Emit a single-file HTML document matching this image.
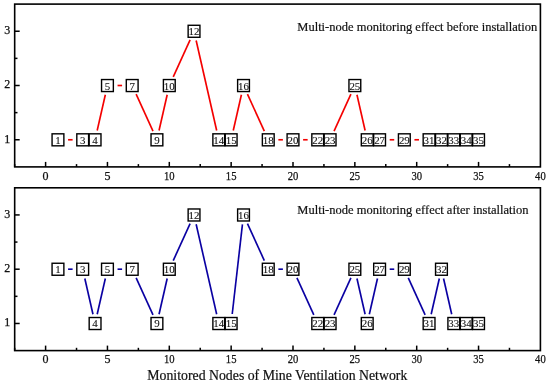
<!DOCTYPE html>
<html><head><meta charset="utf-8"><style>
html,body{margin:0;padding:0;background:#fff;}
body{width:550px;height:383px;overflow:hidden;}
svg{display:block;}
text{font-family:"Liberation Serif",serif;fill:#111;}
.tl{font-size:12.0px;stroke:#111;stroke-width:0.25px;}
.bl{font-size:10.9px;stroke:#111;stroke-width:0.1px;}
.tt{font-size:12.8px;stroke:#111;stroke-width:0.2px;}
.xt{font-size:14px;stroke:#111;stroke-width:0.2px;}
</style></head><body>
<svg width="550" height="383" viewBox="0 0 550 383">
<rect width="550" height="383" fill="#fff"/>
<rect x="14.68" y="4.10" width="525.73" height="162.80" fill="none" stroke="#000" stroke-width="1.6"/>
<line x1="14.68" y1="166.90" x2="14.68" y2="164.10" stroke="#000" stroke-width="1.5"/>
<line x1="45.60" y1="166.90" x2="45.60" y2="161.90" stroke="#000" stroke-width="1.5"/>
<line x1="76.53" y1="166.90" x2="76.53" y2="164.10" stroke="#000" stroke-width="1.5"/>
<line x1="107.45" y1="166.90" x2="107.45" y2="161.90" stroke="#000" stroke-width="1.5"/>
<line x1="138.38" y1="166.90" x2="138.38" y2="164.10" stroke="#000" stroke-width="1.5"/>
<line x1="169.30" y1="166.90" x2="169.30" y2="161.90" stroke="#000" stroke-width="1.5"/>
<line x1="200.22" y1="166.90" x2="200.22" y2="164.10" stroke="#000" stroke-width="1.5"/>
<line x1="231.15" y1="166.90" x2="231.15" y2="161.90" stroke="#000" stroke-width="1.5"/>
<line x1="262.07" y1="166.90" x2="262.07" y2="164.10" stroke="#000" stroke-width="1.5"/>
<line x1="293.00" y1="166.90" x2="293.00" y2="161.90" stroke="#000" stroke-width="1.5"/>
<line x1="323.93" y1="166.90" x2="323.93" y2="164.10" stroke="#000" stroke-width="1.5"/>
<line x1="354.85" y1="166.90" x2="354.85" y2="161.90" stroke="#000" stroke-width="1.5"/>
<line x1="385.77" y1="166.90" x2="385.77" y2="164.10" stroke="#000" stroke-width="1.5"/>
<line x1="416.70" y1="166.90" x2="416.70" y2="161.90" stroke="#000" stroke-width="1.5"/>
<line x1="447.62" y1="166.90" x2="447.62" y2="164.10" stroke="#000" stroke-width="1.5"/>
<line x1="478.55" y1="166.90" x2="478.55" y2="161.90" stroke="#000" stroke-width="1.5"/>
<line x1="509.47" y1="166.90" x2="509.47" y2="164.10" stroke="#000" stroke-width="1.5"/>
<line x1="14.68" y1="139.77" x2="19.68" y2="139.77" stroke="#000" stroke-width="1.5"/>
<line x1="14.68" y1="112.63" x2="17.48" y2="112.63" stroke="#000" stroke-width="1.5"/>
<line x1="14.68" y1="85.50" x2="19.68" y2="85.50" stroke="#000" stroke-width="1.5"/>
<line x1="14.68" y1="58.37" x2="17.48" y2="58.37" stroke="#000" stroke-width="1.5"/>
<line x1="14.68" y1="31.23" x2="19.68" y2="31.23" stroke="#000" stroke-width="1.5"/>
<text x="45.60" y="179.50" class="tl" text-anchor="middle">0</text>
<text x="107.45" y="179.50" class="tl" text-anchor="middle">5</text>
<text x="169.30" y="179.50" class="tl" text-anchor="middle" textLength="10.6" lengthAdjust="spacingAndGlyphs">10</text>
<text x="231.15" y="179.50" class="tl" text-anchor="middle" textLength="10.6" lengthAdjust="spacingAndGlyphs">15</text>
<text x="293.00" y="179.50" class="tl" text-anchor="middle" textLength="10.6" lengthAdjust="spacingAndGlyphs">20</text>
<text x="354.85" y="179.50" class="tl" text-anchor="middle" textLength="10.6" lengthAdjust="spacingAndGlyphs">25</text>
<text x="416.70" y="179.50" class="tl" text-anchor="middle" textLength="10.6" lengthAdjust="spacingAndGlyphs">30</text>
<text x="478.55" y="179.50" class="tl" text-anchor="middle" textLength="10.6" lengthAdjust="spacingAndGlyphs">35</text>
<text x="540.40" y="179.50" class="tl" text-anchor="middle" textLength="10.6" lengthAdjust="spacingAndGlyphs">40</text>
<text x="7.3" y="142.57" class="tl" text-anchor="middle">1</text>
<text x="7.3" y="88.30" class="tl" text-anchor="middle">2</text>
<text x="7.3" y="34.03" class="tl" text-anchor="middle">3</text>
<line x1="68.07" y1="139.77" x2="72.61" y2="139.77" stroke="#f40000" stroke-width="1.65"/>
<line x1="97.19" y1="130.50" x2="105.34" y2="94.76" stroke="#f40000" stroke-width="1.65"/>
<line x1="117.55" y1="85.50" x2="122.09" y2="85.50" stroke="#f40000" stroke-width="1.65"/>
<line x1="136.13" y1="94.14" x2="152.99" y2="131.12" stroke="#f40000" stroke-width="1.65"/>
<line x1="159.04" y1="130.50" x2="167.19" y2="94.76" stroke="#f40000" stroke-width="1.65"/>
<line x1="173.24" y1="76.86" x2="190.10" y2="39.88" stroke="#f40000" stroke-width="1.65"/>
<line x1="196.15" y1="40.50" x2="216.67" y2="130.50" stroke="#f40000" stroke-width="1.65"/>
<line x1="233.26" y1="130.50" x2="241.41" y2="94.76" stroke="#f40000" stroke-width="1.65"/>
<line x1="247.46" y1="94.14" x2="264.32" y2="131.12" stroke="#f40000" stroke-width="1.65"/>
<line x1="278.36" y1="139.77" x2="282.90" y2="139.77" stroke="#f40000" stroke-width="1.65"/>
<line x1="303.10" y1="139.77" x2="307.64" y2="139.77" stroke="#f40000" stroke-width="1.65"/>
<line x1="334.05" y1="131.12" x2="350.91" y2="94.14" stroke="#f40000" stroke-width="1.65"/>
<line x1="356.96" y1="94.76" x2="365.11" y2="130.50" stroke="#f40000" stroke-width="1.65"/>
<line x1="389.69" y1="139.77" x2="394.23" y2="139.77" stroke="#f40000" stroke-width="1.65"/>
<line x1="414.43" y1="139.77" x2="418.97" y2="139.77" stroke="#f40000" stroke-width="1.65"/>
<rect x="52.07" y="133.82" width="11.8" height="12.0" fill="#fff" stroke="#000" stroke-width="1.4"/>
<text x="57.97" y="143.77" class="bl" text-anchor="middle">1</text>
<rect x="76.81" y="133.82" width="11.8" height="12.0" fill="#fff" stroke="#000" stroke-width="1.4"/>
<text x="82.71" y="143.77" class="bl" text-anchor="middle">3</text>
<rect x="89.18" y="133.82" width="11.8" height="12.0" fill="#fff" stroke="#000" stroke-width="1.4"/>
<text x="95.08" y="143.77" class="bl" text-anchor="middle">4</text>
<rect x="101.55" y="79.55" width="11.8" height="12.0" fill="#fff" stroke="#000" stroke-width="1.4"/>
<text x="107.45" y="89.50" class="bl" text-anchor="middle">5</text>
<rect x="126.29" y="79.55" width="11.8" height="12.0" fill="#fff" stroke="#000" stroke-width="1.4"/>
<text x="132.19" y="89.50" class="bl" text-anchor="middle">7</text>
<rect x="151.03" y="133.82" width="11.8" height="12.0" fill="#fff" stroke="#000" stroke-width="1.4"/>
<text x="156.93" y="143.77" class="bl" text-anchor="middle">9</text>
<rect x="163.40" y="79.55" width="11.8" height="12.0" fill="#fff" stroke="#000" stroke-width="1.4"/>
<text x="169.30" y="89.50" class="bl" text-anchor="middle">10</text>
<rect x="188.14" y="25.28" width="11.8" height="12.0" fill="#fff" stroke="#000" stroke-width="1.4"/>
<text x="194.04" y="35.23" class="bl" text-anchor="middle">12</text>
<rect x="212.88" y="133.82" width="11.8" height="12.0" fill="#fff" stroke="#000" stroke-width="1.4"/>
<text x="218.78" y="143.77" class="bl" text-anchor="middle">14</text>
<rect x="225.25" y="133.82" width="11.8" height="12.0" fill="#fff" stroke="#000" stroke-width="1.4"/>
<text x="231.15" y="143.77" class="bl" text-anchor="middle">15</text>
<rect x="237.62" y="79.55" width="11.8" height="12.0" fill="#fff" stroke="#000" stroke-width="1.4"/>
<text x="243.52" y="89.50" class="bl" text-anchor="middle">16</text>
<rect x="262.36" y="133.82" width="11.8" height="12.0" fill="#fff" stroke="#000" stroke-width="1.4"/>
<text x="268.26" y="143.77" class="bl" text-anchor="middle">18</text>
<rect x="287.10" y="133.82" width="11.8" height="12.0" fill="#fff" stroke="#000" stroke-width="1.4"/>
<text x="293.00" y="143.77" class="bl" text-anchor="middle">20</text>
<rect x="311.84" y="133.82" width="11.8" height="12.0" fill="#fff" stroke="#000" stroke-width="1.4"/>
<text x="317.74" y="143.77" class="bl" text-anchor="middle">22</text>
<rect x="324.21" y="133.82" width="11.8" height="12.0" fill="#fff" stroke="#000" stroke-width="1.4"/>
<text x="330.11" y="143.77" class="bl" text-anchor="middle">23</text>
<rect x="348.95" y="79.55" width="11.8" height="12.0" fill="#fff" stroke="#000" stroke-width="1.4"/>
<text x="354.85" y="89.50" class="bl" text-anchor="middle">25</text>
<rect x="361.32" y="133.82" width="11.8" height="12.0" fill="#fff" stroke="#000" stroke-width="1.4"/>
<text x="367.22" y="143.77" class="bl" text-anchor="middle">26</text>
<rect x="373.69" y="133.82" width="11.8" height="12.0" fill="#fff" stroke="#000" stroke-width="1.4"/>
<text x="379.59" y="143.77" class="bl" text-anchor="middle">27</text>
<rect x="398.43" y="133.82" width="11.8" height="12.0" fill="#fff" stroke="#000" stroke-width="1.4"/>
<text x="404.33" y="143.77" class="bl" text-anchor="middle">29</text>
<rect x="423.17" y="133.82" width="11.8" height="12.0" fill="#fff" stroke="#000" stroke-width="1.4"/>
<text x="429.07" y="143.77" class="bl" text-anchor="middle">31</text>
<rect x="435.54" y="133.82" width="11.8" height="12.0" fill="#fff" stroke="#000" stroke-width="1.4"/>
<text x="441.44" y="143.77" class="bl" text-anchor="middle">32</text>
<rect x="447.91" y="133.82" width="11.8" height="12.0" fill="#fff" stroke="#000" stroke-width="1.4"/>
<text x="453.81" y="143.77" class="bl" text-anchor="middle">33</text>
<rect x="460.28" y="133.82" width="11.8" height="12.0" fill="#fff" stroke="#000" stroke-width="1.4"/>
<text x="466.18" y="143.77" class="bl" text-anchor="middle">34</text>
<rect x="472.65" y="133.82" width="11.8" height="12.0" fill="#fff" stroke="#000" stroke-width="1.4"/>
<text x="478.55" y="143.77" class="bl" text-anchor="middle">35</text>
<rect x="14.68" y="187.80" width="525.73" height="162.80" fill="none" stroke="#000" stroke-width="1.6"/>
<line x1="14.68" y1="350.60" x2="14.68" y2="347.80" stroke="#000" stroke-width="1.5"/>
<line x1="45.60" y1="350.60" x2="45.60" y2="345.60" stroke="#000" stroke-width="1.5"/>
<line x1="76.53" y1="350.60" x2="76.53" y2="347.80" stroke="#000" stroke-width="1.5"/>
<line x1="107.45" y1="350.60" x2="107.45" y2="345.60" stroke="#000" stroke-width="1.5"/>
<line x1="138.38" y1="350.60" x2="138.38" y2="347.80" stroke="#000" stroke-width="1.5"/>
<line x1="169.30" y1="350.60" x2="169.30" y2="345.60" stroke="#000" stroke-width="1.5"/>
<line x1="200.22" y1="350.60" x2="200.22" y2="347.80" stroke="#000" stroke-width="1.5"/>
<line x1="231.15" y1="350.60" x2="231.15" y2="345.60" stroke="#000" stroke-width="1.5"/>
<line x1="262.07" y1="350.60" x2="262.07" y2="347.80" stroke="#000" stroke-width="1.5"/>
<line x1="293.00" y1="350.60" x2="293.00" y2="345.60" stroke="#000" stroke-width="1.5"/>
<line x1="323.93" y1="350.60" x2="323.93" y2="347.80" stroke="#000" stroke-width="1.5"/>
<line x1="354.85" y1="350.60" x2="354.85" y2="345.60" stroke="#000" stroke-width="1.5"/>
<line x1="385.77" y1="350.60" x2="385.77" y2="347.80" stroke="#000" stroke-width="1.5"/>
<line x1="416.70" y1="350.60" x2="416.70" y2="345.60" stroke="#000" stroke-width="1.5"/>
<line x1="447.62" y1="350.60" x2="447.62" y2="347.80" stroke="#000" stroke-width="1.5"/>
<line x1="478.55" y1="350.60" x2="478.55" y2="345.60" stroke="#000" stroke-width="1.5"/>
<line x1="509.47" y1="350.60" x2="509.47" y2="347.80" stroke="#000" stroke-width="1.5"/>
<line x1="14.68" y1="323.47" x2="19.68" y2="323.47" stroke="#000" stroke-width="1.5"/>
<line x1="14.68" y1="296.33" x2="17.48" y2="296.33" stroke="#000" stroke-width="1.5"/>
<line x1="14.68" y1="269.20" x2="19.68" y2="269.20" stroke="#000" stroke-width="1.5"/>
<line x1="14.68" y1="242.07" x2="17.48" y2="242.07" stroke="#000" stroke-width="1.5"/>
<line x1="14.68" y1="214.93" x2="19.68" y2="214.93" stroke="#000" stroke-width="1.5"/>
<text x="45.60" y="363.20" class="tl" text-anchor="middle">0</text>
<text x="107.45" y="363.20" class="tl" text-anchor="middle">5</text>
<text x="169.30" y="363.20" class="tl" text-anchor="middle" textLength="10.6" lengthAdjust="spacingAndGlyphs">10</text>
<text x="231.15" y="363.20" class="tl" text-anchor="middle" textLength="10.6" lengthAdjust="spacingAndGlyphs">15</text>
<text x="293.00" y="363.20" class="tl" text-anchor="middle" textLength="10.6" lengthAdjust="spacingAndGlyphs">20</text>
<text x="354.85" y="363.20" class="tl" text-anchor="middle" textLength="10.6" lengthAdjust="spacingAndGlyphs">25</text>
<text x="416.70" y="363.20" class="tl" text-anchor="middle" textLength="10.6" lengthAdjust="spacingAndGlyphs">30</text>
<text x="478.55" y="363.20" class="tl" text-anchor="middle" textLength="10.6" lengthAdjust="spacingAndGlyphs">35</text>
<text x="540.40" y="363.20" class="tl" text-anchor="middle" textLength="10.6" lengthAdjust="spacingAndGlyphs">40</text>
<text x="7.3" y="326.27" class="tl" text-anchor="middle">1</text>
<text x="7.3" y="272.00" class="tl" text-anchor="middle">2</text>
<text x="7.3" y="217.73" class="tl" text-anchor="middle">3</text>
<line x1="68.07" y1="269.20" x2="72.61" y2="269.20" stroke="#0a00a2" stroke-width="1.65"/>
<line x1="84.82" y1="278.46" x2="92.97" y2="314.20" stroke="#0a00a2" stroke-width="1.65"/>
<line x1="97.19" y1="314.20" x2="105.34" y2="278.46" stroke="#0a00a2" stroke-width="1.65"/>
<line x1="117.55" y1="269.20" x2="122.09" y2="269.20" stroke="#0a00a2" stroke-width="1.65"/>
<line x1="136.13" y1="277.84" x2="152.99" y2="314.82" stroke="#0a00a2" stroke-width="1.65"/>
<line x1="159.04" y1="314.20" x2="167.19" y2="278.46" stroke="#0a00a2" stroke-width="1.65"/>
<line x1="173.24" y1="260.56" x2="190.10" y2="223.58" stroke="#0a00a2" stroke-width="1.65"/>
<line x1="196.15" y1="224.20" x2="216.67" y2="314.20" stroke="#0a00a2" stroke-width="1.65"/>
<line x1="232.23" y1="314.03" x2="242.44" y2="224.37" stroke="#0a00a2" stroke-width="1.65"/>
<line x1="247.46" y1="223.58" x2="264.32" y2="260.56" stroke="#0a00a2" stroke-width="1.65"/>
<line x1="278.36" y1="269.20" x2="282.90" y2="269.20" stroke="#0a00a2" stroke-width="1.65"/>
<line x1="296.94" y1="277.84" x2="313.80" y2="314.82" stroke="#0a00a2" stroke-width="1.65"/>
<line x1="334.05" y1="314.82" x2="350.91" y2="277.84" stroke="#0a00a2" stroke-width="1.65"/>
<line x1="356.96" y1="278.46" x2="365.11" y2="314.20" stroke="#0a00a2" stroke-width="1.65"/>
<line x1="369.33" y1="314.20" x2="377.48" y2="278.46" stroke="#0a00a2" stroke-width="1.65"/>
<line x1="389.69" y1="269.20" x2="394.23" y2="269.20" stroke="#0a00a2" stroke-width="1.65"/>
<line x1="408.27" y1="277.84" x2="425.13" y2="314.82" stroke="#0a00a2" stroke-width="1.65"/>
<line x1="431.18" y1="314.20" x2="439.33" y2="278.46" stroke="#0a00a2" stroke-width="1.65"/>
<line x1="443.55" y1="278.46" x2="451.70" y2="314.20" stroke="#0a00a2" stroke-width="1.65"/>
<rect x="52.07" y="263.25" width="11.8" height="12.0" fill="#fff" stroke="#000" stroke-width="1.4"/>
<text x="57.97" y="273.20" class="bl" text-anchor="middle">1</text>
<rect x="76.81" y="263.25" width="11.8" height="12.0" fill="#fff" stroke="#000" stroke-width="1.4"/>
<text x="82.71" y="273.20" class="bl" text-anchor="middle">3</text>
<rect x="89.18" y="317.52" width="11.8" height="12.0" fill="#fff" stroke="#000" stroke-width="1.4"/>
<text x="95.08" y="327.47" class="bl" text-anchor="middle">4</text>
<rect x="101.55" y="263.25" width="11.8" height="12.0" fill="#fff" stroke="#000" stroke-width="1.4"/>
<text x="107.45" y="273.20" class="bl" text-anchor="middle">5</text>
<rect x="126.29" y="263.25" width="11.8" height="12.0" fill="#fff" stroke="#000" stroke-width="1.4"/>
<text x="132.19" y="273.20" class="bl" text-anchor="middle">7</text>
<rect x="151.03" y="317.52" width="11.8" height="12.0" fill="#fff" stroke="#000" stroke-width="1.4"/>
<text x="156.93" y="327.47" class="bl" text-anchor="middle">9</text>
<rect x="163.40" y="263.25" width="11.8" height="12.0" fill="#fff" stroke="#000" stroke-width="1.4"/>
<text x="169.30" y="273.20" class="bl" text-anchor="middle">10</text>
<rect x="188.14" y="208.98" width="11.8" height="12.0" fill="#fff" stroke="#000" stroke-width="1.4"/>
<text x="194.04" y="218.93" class="bl" text-anchor="middle">12</text>
<rect x="212.88" y="317.52" width="11.8" height="12.0" fill="#fff" stroke="#000" stroke-width="1.4"/>
<text x="218.78" y="327.47" class="bl" text-anchor="middle">14</text>
<rect x="225.25" y="317.52" width="11.8" height="12.0" fill="#fff" stroke="#000" stroke-width="1.4"/>
<text x="231.15" y="327.47" class="bl" text-anchor="middle">15</text>
<rect x="237.62" y="208.98" width="11.8" height="12.0" fill="#fff" stroke="#000" stroke-width="1.4"/>
<text x="243.52" y="218.93" class="bl" text-anchor="middle">16</text>
<rect x="262.36" y="263.25" width="11.8" height="12.0" fill="#fff" stroke="#000" stroke-width="1.4"/>
<text x="268.26" y="273.20" class="bl" text-anchor="middle">18</text>
<rect x="287.10" y="263.25" width="11.8" height="12.0" fill="#fff" stroke="#000" stroke-width="1.4"/>
<text x="293.00" y="273.20" class="bl" text-anchor="middle">20</text>
<rect x="311.84" y="317.52" width="11.8" height="12.0" fill="#fff" stroke="#000" stroke-width="1.4"/>
<text x="317.74" y="327.47" class="bl" text-anchor="middle">22</text>
<rect x="324.21" y="317.52" width="11.8" height="12.0" fill="#fff" stroke="#000" stroke-width="1.4"/>
<text x="330.11" y="327.47" class="bl" text-anchor="middle">23</text>
<rect x="348.95" y="263.25" width="11.8" height="12.0" fill="#fff" stroke="#000" stroke-width="1.4"/>
<text x="354.85" y="273.20" class="bl" text-anchor="middle">25</text>
<rect x="361.32" y="317.52" width="11.8" height="12.0" fill="#fff" stroke="#000" stroke-width="1.4"/>
<text x="367.22" y="327.47" class="bl" text-anchor="middle">26</text>
<rect x="373.69" y="263.25" width="11.8" height="12.0" fill="#fff" stroke="#000" stroke-width="1.4"/>
<text x="379.59" y="273.20" class="bl" text-anchor="middle">27</text>
<rect x="398.43" y="263.25" width="11.8" height="12.0" fill="#fff" stroke="#000" stroke-width="1.4"/>
<text x="404.33" y="273.20" class="bl" text-anchor="middle">29</text>
<rect x="423.17" y="317.52" width="11.8" height="12.0" fill="#fff" stroke="#000" stroke-width="1.4"/>
<text x="429.07" y="327.47" class="bl" text-anchor="middle">31</text>
<rect x="435.54" y="263.25" width="11.8" height="12.0" fill="#fff" stroke="#000" stroke-width="1.4"/>
<text x="441.44" y="273.20" class="bl" text-anchor="middle">32</text>
<rect x="447.91" y="317.52" width="11.8" height="12.0" fill="#fff" stroke="#000" stroke-width="1.4"/>
<text x="453.81" y="327.47" class="bl" text-anchor="middle">33</text>
<rect x="460.28" y="317.52" width="11.8" height="12.0" fill="#fff" stroke="#000" stroke-width="1.4"/>
<text x="466.18" y="327.47" class="bl" text-anchor="middle">34</text>
<rect x="472.65" y="317.52" width="11.8" height="12.0" fill="#fff" stroke="#000" stroke-width="1.4"/>
<text x="478.55" y="327.47" class="bl" text-anchor="middle">35</text>
<text x="297.3" y="30.6" class="tt" textLength="240" lengthAdjust="spacingAndGlyphs">Multi-node monitoring effect before installation</text>
<text x="297.3" y="213.8" class="tt" textLength="231.2" lengthAdjust="spacingAndGlyphs">Multi-node monitoring effect after installation</text>
<text x="147.3" y="379.8" class="xt" textLength="260" lengthAdjust="spacingAndGlyphs">Monitored Nodes of Mine Ventilation Network</text>
</svg>
</body></html>
